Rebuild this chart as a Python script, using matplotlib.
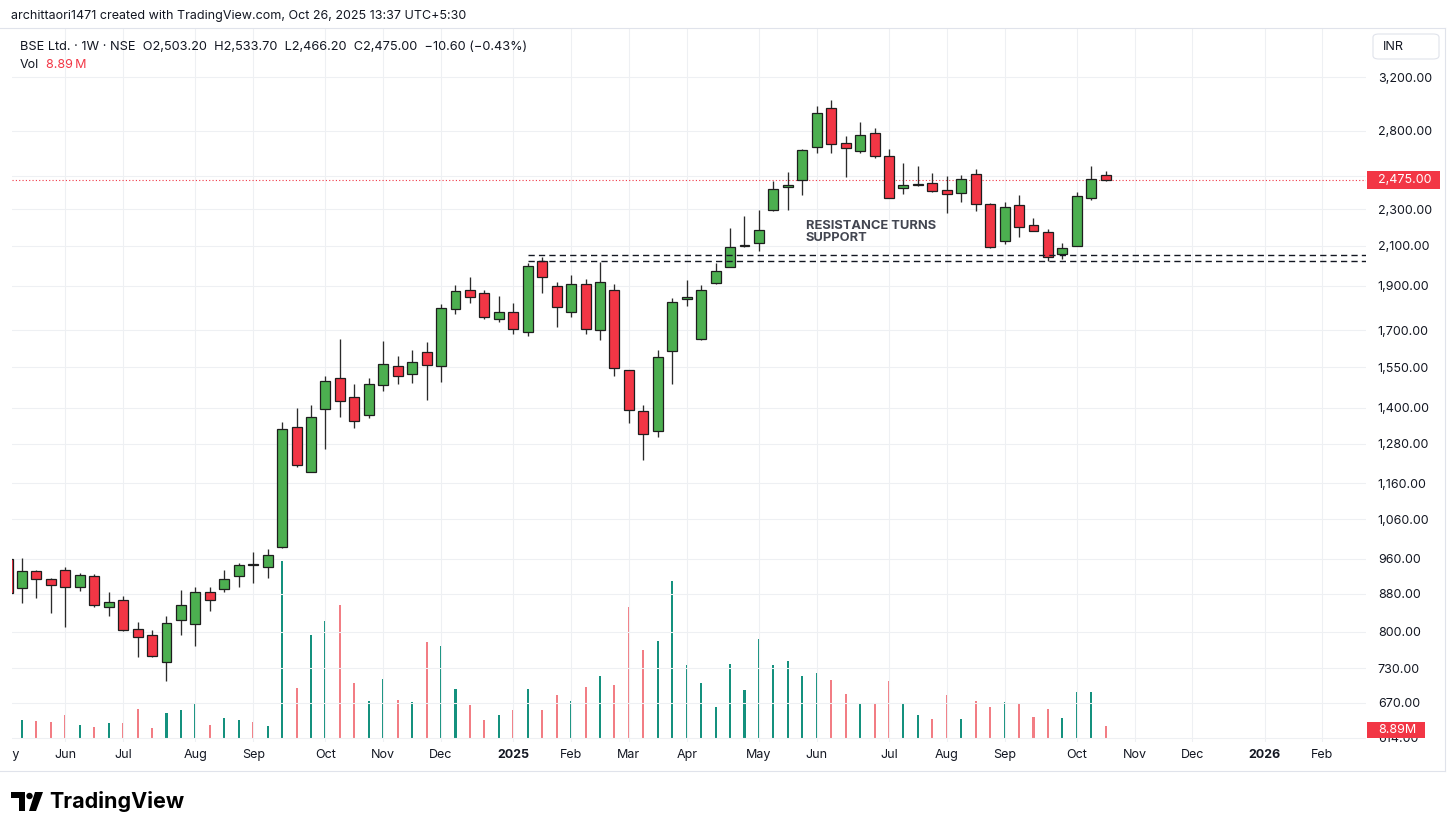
import matplotlib
matplotlib.use("Agg")
import matplotlib.pyplot as plt
import matplotlib.transforms as mtransforms
from matplotlib.patches import Rectangle, FancyBboxPatch, Polygon, Circle
from matplotlib.lines import Line2D
import numpy as np
import pandas as pd

plt.rcParams['font.family'] = ['Inter', 'DejaVu Sans']

# BSE Ltd. weekly candles (NSE), week of 6 May 2024 .. week of 20 Oct 2025
week_start = '2024-05-06'
opens = [959, 893, 931, 912, 933, 895, 920, 852, 867, 805, 793, 742, 824, 816, 883, 891, 920, 947, 941,
         988, 1334, 1194, 1396, 1510, 1438, 1374, 1483, 1556, 1523, 1610, 1555, 1791, 1881, 1864, 1747,
         1780, 1691, 2020, 1900, 1778, 1907, 1700, 1880, 1537, 1389, 1322, 1613, 1838, 1664, 1914, 1992,
         2097, 2116, 2296, 2434, 2475, 2686, 2961, 2717, 2663, 2782, 2627, 2424, 2444, 2455, 2414, 2398,
         2512, 2329, 2126, 2325, 2212, 2172, 2055, 2100, 2368, 2503.2]
highs = [963, 961, 933, 915, 940, 927, 924, 883, 875, 820, 803, 832, 888, 895, 894, 934, 951, 977, 983,
         1350, 1400, 1411, 1516, 1663, 1485, 1508, 1655, 1595, 1618, 1651, 1814, 1905, 1943, 1880, 1853,
         1821, 2011, 2043, 1919, 1953, 1931, 2018, 1910, 1540, 1411, 1616, 1844, 1927, 1905, 2009, 2197,
         2262, 2296, 2471, 2525, 2677, 2981, 3023, 2763, 2859, 2816, 2673, 2580, 2565, 2517, 2500, 2508,
         2544, 2338, 2344, 2384, 2249, 2190, 2116, 2404, 2563, 2533.7]
lows = [879, 859, 871, 839, 810, 886, 852, 833, 802, 751, 751, 707, 794, 771, 843, 884, 895, 903, 916,
        985, 1208, 1192, 1262, 1368, 1330, 1364, 1459, 1485, 1491, 1428, 1495, 1770, 1818, 1750, 1737,
        1685, 1677, 1867, 1712, 1756, 1683, 1658, 1517, 1347, 1229, 1301, 1485, 1807, 1659, 1908, 1989,
        2092, 2074, 2288, 2296, 2382, 2646, 2649, 2496, 2646, 2613, 2364, 2390, 2440, 2404, 2277, 2342,
        2292, 2086, 2107, 2145, 2177, 2021, 2031, 2098, 2354, 2466.2]
closes = [882, 931, 912, 899, 895, 921, 855, 862, 804, 789, 753, 817, 855, 883, 867, 913, 945, 944, 968,
          1327, 1215, 1368, 1496, 1425, 1355, 1485, 1561, 1516, 1570, 1557, 1796, 1875, 1847, 1757, 1779,
          1705, 1996, 1943, 1800, 1907, 1706, 1916, 1546, 1393, 1310, 1591, 1823, 1848, 1878, 1973, 2095,
          2104, 2184, 2420, 2444, 2666, 2924, 2706, 2684, 2770, 2630, 2368, 2442, 2448, 2406, 2390, 2479,
          2329, 2092, 2315, 2199, 2179, 2040, 2086, 2378, 2479, 2475.0]
# weekly volume in millions (first bar is cut off at the left edge)
volumes = [np.nan, 13.2, 12.5, 11.8, 16.3, 9.1, 7.7, 11.1, 11.1, 20.7, 7.2, 18.0, 19.9, 25.0, 9.1, 14.7,
           12.7, 11.8, 8.9, 127.4, 36.0, 74.0, 84.3, 95.6, 39.4, 26.4, 42.5, 27.4, 25.7, 69.2, 66.1, 35.1,
           24.0, 13.2, 16.6, 20.4, 35.6, 20.4, 30.8, 26.9, 36.5, 44.9, 38.4, 94.7, 63.7, 70.2, 113.4, 52.4,
           39.9, 22.1, 53.3, 34.4, 71.6, 52.4, 55.7, 44.9, 47.1, 41.6, 31.5, 24.3, 24.8, 41.1, 24.8, 16.6,
           13.7, 30.8, 13.7, 26.7, 22.1, 25.7, 25.0, 15.1, 21.1, 14.7, 32.9, 33.4, 8.89]

price_ticks = [614, 670, 730, 800, 880, 960, 1060, 1160, 1280, 1400, 1550, 1700, 1900, 2100, 2300,
               2500, 2800, 3200]
month_dates = ['2024-05-06', '2024-06-03', '2024-07-01', '2024-08-05', '2024-09-02', '2024-10-07',
               '2024-11-04', '2024-12-02', '2025-01-06', '2025-02-03', '2025-03-03', '2025-04-01',
               '2025-05-05', '2025-06-02', '2025-07-07', '2025-08-04', '2025-09-01', '2025-10-06',
               '2025-11-03', '2025-12-01', '2026-01-05', '2026-02-02']
month_names = ['May', 'Jun', 'Jul', 'Aug', 'Sep', 'Oct', 'Nov', 'Dec', '2025', 'Feb', 'Mar', 'Apr',
               'May', 'Jun', 'Jul', 'Aug', 'Sep', 'Oct', 'Nov', 'Dec', '2026', 'Feb']

support_levels = [2053, 2020]
support_from = '2025-01-13'
last_close = 2475.0
last_volume = 8.89

TXT = '#131722'
GRID = '#eef0f3'
W, H = 1456, 834


def week_index(d):
    return (pd.Timestamp(d) - pd.Timestamp(week_start)).days // 7


def fy(y):
    # pixel row from the top -> figure fraction
    return 1 - y / H


fig = plt.figure(figsize=(W / 100, H / 100), dpi=100)
fig.patch.set_facecolor('white')

left, right, top, bottom = 11.5, 1366, 28, 742
rect = [left / W, fy(bottom), (right - left) / W, (bottom - top) / H]
vax = fig.add_axes(rect)
ax = fig.add_axes(rect, sharex=vax)
ax.patch.set_alpha(0)
tax = fig.add_axes([left / W, fy(771), (right - left) / W, (771 - bottom) / H], sharex=vax)

x = np.arange(len(opens))
o, h, l, c = map(np.array, (opens, highs, lows, closes))
up = c >= o

# volume
v = np.array(volumes, dtype=float)
ok = ~np.isnan(v)
vcol = np.where(up, '#14917e', '#f27d84')
vax.bar(x[ok], v[ok], width=0.14, color=vcol[ok], linewidth=0)
vax.set_ylim(-2.9, 511.9)
vax.axis('off')

# candles
ax.set_yscale('log')
ax.vlines(x, l, h, color='#2b2b2b', lw=0.95, zorder=3)
ax.bar(x, np.abs(c - o), bottom=np.minimum(o, c), width=0.69,
       color=np.where(up, '#4caf50', '#f23645'), edgecolor='#1e1e1e', linewidth=0.9, zorder=4)

x0 = (left - 7.55) / 14.45
x1 = (right - 7.55) / 14.45
ax.set_xlim(x0, x1)
ax.set_ylim(607.2, 3618.5)

# grid
month_idx = [week_index(d) for d in month_dates]
for yv in price_ticks:
    ax.axhline(yv, color=GRID, lw=0.8, zorder=0)
for mi in month_idx:
    ax.axvline(mi, color=GRID, lw=0.8, zorder=0)

ax.yaxis.tick_right()
ax.set_yticks(price_ticks)
ax.set_yticklabels([f'{t:,.2f}' for t in price_ticks])
ax.yaxis.set_minor_locator(matplotlib.ticker.NullLocator())
ax.tick_params(axis='y', length=0, pad=8.5, labelsize=9, labelcolor=TXT)
ax.tick_params(axis='x', bottom=False, labelbottom=False)
for s in ax.spines.values():
    s.set_visible(False)

# last price line
ax.axhline(last_close, color='#f23645', lw=0.8, ls=(0, (1, 2)), zorder=2)

# resistance-turned-support zone
si = week_index(support_from)
for lev in support_levels:
    ax.hlines(lev, si, x1, color='#131722', lw=1.0, ls=(0, (4.5, 3)), zorder=5)
ax.text(week_index('2025-06-02') - 0.75, 2111, 'RESISTANCE TURNS\nSUPPORT', fontsize=9.3,
        fontweight='bold', color='#434651', ha='left', va='bottom', linespacing=0.95, zorder=6)

# time axis
tax.set_ylim(0, 1)
tax.axis('off')
tt = mtransforms.blended_transform_factory(tax.transData, tax.transAxes)
for mi, name in zip(month_idx, month_names):
    tax.text(mi, 0.55, name, transform=tt, ha='center', va='center', fontsize=9, color=TXT,
             fontweight='bold' if name.isdigit() else 'normal', clip_on=True)

# price / volume labels on the scale
fig.canvas.draw()
I = mtransforms.IdentityTransform()
yp = ax.transData.transform((0, last_close))[1]
fig.add_artist(Rectangle((1367, yp - 9), 73, 18, transform=I, facecolor='#f23645', edgecolor='none'))
fig.text(1378, yp, f'{last_close:,.2f}', transform=I, color='white', fontsize=9, va='center', ha='left')
yv = vax.transData.transform((0, last_volume))[1] - 4
fig.add_artist(Rectangle((1367, yv - 8), 58, 16, transform=I, facecolor='#f23645', edgecolor='none'))
fig.text(1378, yv, f'{last_volume:.2f}M', transform=I, color='white', fontsize=9, va='center', ha='left')

# INR box
fig.add_artist(FancyBboxPatch((1373 / W, fy(59)), 66 / W, 25 / H, boxstyle='round,pad=0,rounding_size=0.004',
                              transform=fig.transFigure, facecolor='white', edgecolor='#e0e3eb', lw=0.8))
fig.text(1383 / W, fy(46.5), 'INR', fontsize=9, color=TXT, va='center')

# frame lines
for (xa, ya, xb, yb) in [(0, 27.5, 1445, 27.5), (0, 771, 1445, 771), (1445, 27.5, 1445, 771)]:
    fig.add_artist(Line2D([xa / W, xb / W], [fy(ya), fy(yb)], transform=fig.transFigure,
                          color='#e0e3eb', lw=0.8))

# header
fig.text(11 / W, fy(16.5), 'archittaori1471 created with TradingView.com, Oct 26, 2025 13:37 UTC+5:30',
         fontsize=9, color=TXT, va='center')
fig.text(20 / W, fy(46.5),
         'BSE Ltd. \u00b7 1W \u00b7 NSE  O2,503.20  H2,533.70  L2,466.20  C2,475.00  \u221210.60 (\u22120.43%)',
         fontsize=9.2, color=TXT, va='center')
fig.text(20 / W, fy(65), 'Vol', fontsize=9, color=TXT, va='center')
fig.text(46 / W, fy(65), '8.89\u2009M', fontsize=9, color='#f23645', va='center',
         family=['Inter', 'DejaVu Sans'])

# TradingView logo
fig.add_artist(Polygon([(11, H - 792), (25, H - 792), (25, H - 811), (19, H - 811), (19, H - 798),
                        (11, H - 798)], closed=True, transform=I, facecolor='black', edgecolor='none'))
fig.add_artist(Circle((29.5, H - 796), 3.2, transform=I, facecolor='black', edgecolor='none'))
fig.add_artist(Polygon([(35, H - 792), (43, H - 792), (36, H - 811), (29, H - 811)], closed=True,
                       transform=I, facecolor='black', edgecolor='none'))
fig.text(49 / W, fy(801.5), 'TradingView', fontsize=15.5, fontweight='bold', color='black', va='center')

fig.savefig('out.png', dpi=100, facecolor='white')
